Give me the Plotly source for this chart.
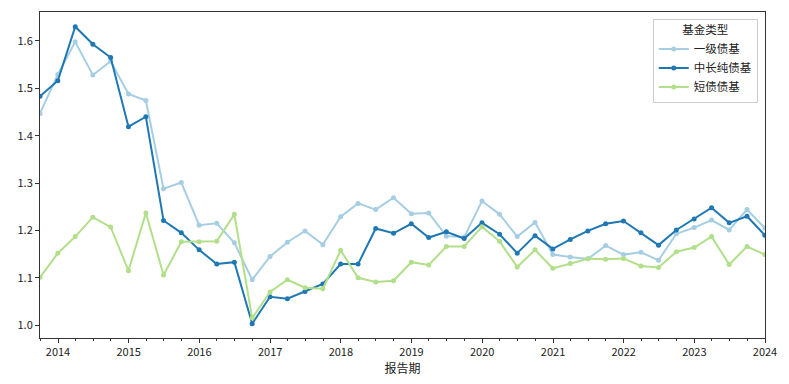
import plotly.graph_objects as go
import pandas as pd

dates = pd.date_range("2013-09-30", periods=42, freq="QE").strftime("%Y-%m-%d").tolist()

yiji = [1.447, 1.529, 1.598, 1.528, 1.557, 1.488, 1.474, 1.288, 1.301, 1.211,
        1.215, 1.174, 1.096, 1.145, 1.175, 1.199, 1.170, 1.229, 1.257, 1.244,
        1.269, 1.235, 1.237, 1.188, 1.186, 1.262, 1.234, 1.187, 1.217, 1.149,
        1.144, 1.140, 1.168, 1.149, 1.154, 1.137, 1.193, 1.206, 1.222, 1.201,
        1.244, 1.205]
zhongchang = [1.483, 1.516, 1.630, 1.593, 1.565, 1.419, 1.440, 1.221, 1.195, 1.159,
              1.129, 1.133, 1.003, 1.060, 1.056, 1.071, 1.087, 1.129, 1.129, 1.204,
              1.194, 1.214, 1.185, 1.197, 1.183, 1.216, 1.192, 1.152, 1.189, 1.161,
              1.181, 1.199, 1.214, 1.220, 1.195, 1.169, 1.201, 1.224, 1.248, 1.216,
              1.230, 1.190]
duanzhai = [1.101, 1.152, 1.187, 1.228, 1.207, 1.115, 1.237, 1.106, 1.176, 1.176,
            1.177, 1.234, 1.015, 1.070, 1.096, 1.079, 1.077, 1.158, 1.100, 1.091,
            1.094, 1.133, 1.127, 1.166, 1.166, 1.208, 1.177, 1.123, 1.159, 1.120,
            1.130, 1.140, 1.139, 1.141, 1.125, 1.122, 1.155, 1.164, 1.187, 1.128,
            1.166, 1.149]

series = [("一级债基", yiji, "#a6cee3"),
          ("中长纯债基", zhongchang, "#1f78b4"),
          ("短债债基", duanzhai, "#b2df8a")]

font = "Noto Sans CJK SC, DejaVu Sans, sans-serif"
fig = go.Figure()
for name, vals, color in series:
    fig.add_trace(go.Scatter(x=dates, y=vals, name=name, mode="lines+markers",
                             line=dict(color=color, width=2),
                             marker=dict(color=color, size=5)))

fig.update_layout(
    width=789, height=384,
    margin=dict(l=40, r=24, t=12, b=46, autoexpand=False),
    paper_bgcolor="white", plot_bgcolor="white",
    font=dict(family=font, size=11, color="#222"),
    showlegend=True,
    legend=dict(title=dict(text="基金类型", side="top center", font=dict(size=11.5)),
                x=0.99, y=0.98, xanchor="right", yanchor="top",
                bgcolor="rgba(255,255,255,0.8)", bordercolor="#cccccc", borderwidth=1,
                font=dict(size=11.5), tracegroupgap=0, itemwidth=30),
    xaxis=dict(range=["2013-09-30", "2024-01-01"], showgrid=False, automargin=False,
               showline=True, linecolor="#333", linewidth=1, mirror=True,
               ticks="outside", ticklen=4, tickcolor="#333",
               dtick="M12", tick0="2014-01-01", tickformat="%Y",
               minor=dict(dtick="M3", tick0="2014-01-01", ticks="outside", ticklen=2, tickcolor="#333"),
               title=dict(text="报告期", font=dict(size=12), standoff=6),
               zeroline=False),
    yaxis=dict(range=[0.973, 1.661], showgrid=False, automargin=False,
               showline=True, linecolor="#333", linewidth=1, mirror=True,
               ticks="outside", ticklen=4, tickcolor="#333",
               dtick=0.1, tickformat=".1f", zeroline=False),
)

fig.write_html("out.html", config={"displayModeBar": False},
               post_script="document.body.style.margin='0';document.body.style.padding='0';")
